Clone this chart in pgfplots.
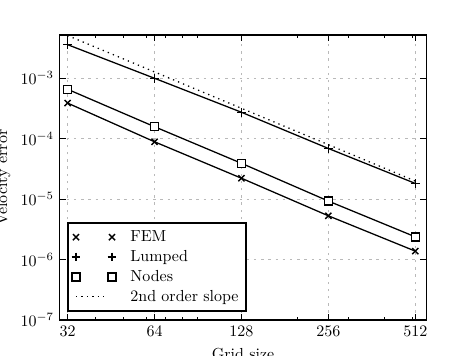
\documentclass[border=0pt]{standalone}
\usepackage{pgfplots}
\pgfplotsset{compat=1.18}
\pgfplotsset{
  twomarks/.style={legend image code/.code={\draw[##1, only marks] plot coordinates {(0pt,0pt) (22.5pt,0pt)};\path[draw=none] (0pt,0pt) -- (32pt,0pt);}},
  slopeline/.style={legend image code/.code={\draw[##1] (0pt,0pt) -- (19.5pt,0pt);\path[draw=none] (0pt,0pt) -- (32pt,0pt);}},
}
\begin{document}
\begin{tikzpicture}
\begin{axis}[
  scale only axis,
  width=229.375pt, height=178.125pt,
  xmode=log, ymode=log,
  log basis y=10,
  xmin=30, xmax=560,
  ymin=1e-7, ymax=5.2e-3,
  xtick={32,64,128,256,512},
  xticklabels={32,64,128,256,512},
  minor xtick={30,40,50,60,70,80,90,200,300,400,500},
  ytick={1e-7,1e-6,1e-5,1e-4,1e-3},
  yminorticks=true,
  tick align=inside,
  major tick length=3.8pt,
  minor tick length=2pt,
  every tick/.style={black, line width=0.5pt},
  axis line style={line width=1.2pt},
  xmajorgrids, ymajorgrids,
  major grid style={gray!55, dash pattern=on 1.5pt off 3pt, line width=0.4pt},
  xlabel={Grid size},
  ylabel={Velocity error},
  xlabel style={at={(axis description cs:0.5,-0.0797)}, anchor=north},
  ylabel style={at={(axis description cs:-0.143,0.5)}, anchor=base},
  legend cell align=left,
  legend style={at={(axis description cs:0.0196,0.029)}, anchor=south west,
    draw=black, line width=1.2pt, fill=white, row sep=0pt, inner sep=2.5pt},
]
\addplot[black, line width=0.8pt, mark=x, mark size=2.7pt, mark options={solid, line width=0.9pt}, twomarks]
  coordinates {(32,3.89e-4) (64,8.9e-5) (128,2.22e-5) (256,5.3e-6) (512,1.38e-6)};
\addlegendentry{FEM}
\addplot[black, line width=0.8pt, mark=+, mark size=2.7pt, mark options={solid, line width=0.9pt}, twomarks]
  coordinates {(32,3.6e-3) (64,1.0e-3) (128,2.74e-4) (256,6.9e-5) (512,1.82e-5)};
\addlegendentry{Lumped}
\addplot[black, line width=0.8pt, mark=square*, mark size=2.5pt, mark options={solid, fill=white, line width=0.9pt}, twomarks]
  coordinates {(32,6.58e-4) (64,1.58e-4) (128,3.92e-5) (256,9.3e-6) (512,2.38e-6)};
\addlegendentry{Nodes}
\addplot[black, line width=0.8pt, dash pattern=on 0.8pt off 2.6pt, no marks, slopeline]
  coordinates {(32,5.1e-3) (64,1.275e-3) (128,3.19e-4) (256,7.97e-5) (512,1.99e-5)};
\addlegendentry{2nd order slope}
\end{axis}
\pgfresetboundingbox
\path[use as bounding box] ([xshift=-37.19pt,yshift=-21.875pt]current axis.south west) rectangle ++(296.25pt,221.875pt);
\end{tikzpicture}
\end{document}
